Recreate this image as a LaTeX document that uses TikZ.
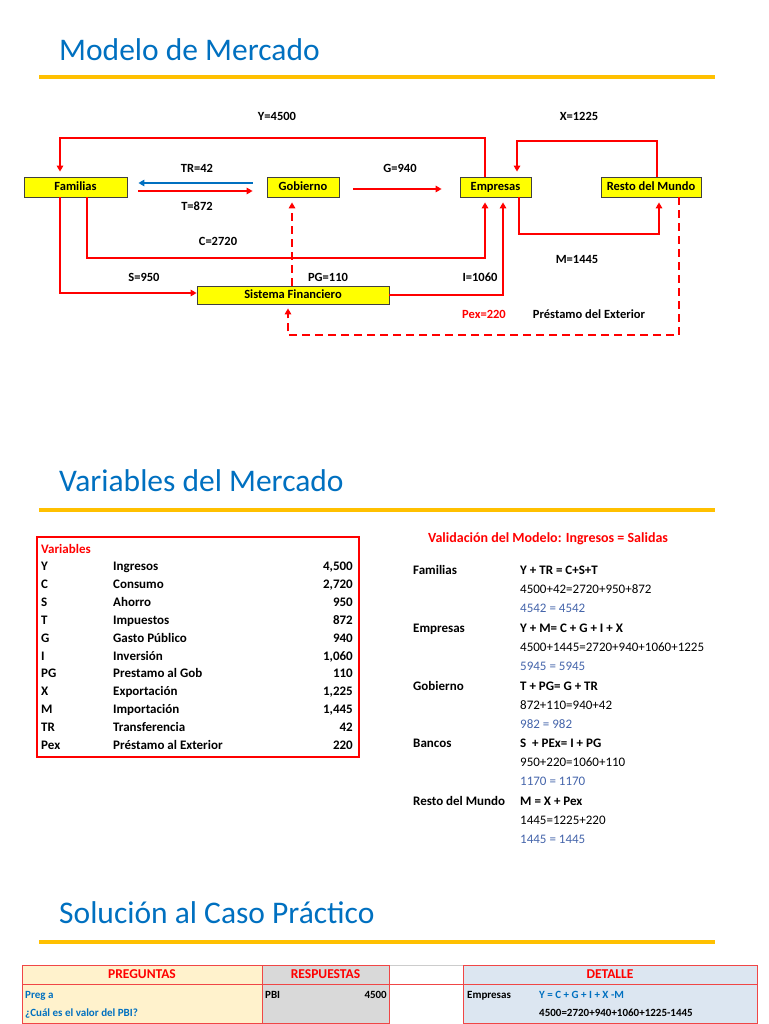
\documentclass[tikz,border=0pt]{standalone}
\usepackage{fontspec}
\setmainfont{Carlito}
\usepackage{xcolor}
\definecolor{titleblue}{RGB}{0,112,192}
\definecolor{rulegold}{RGB}{255,192,0}
\definecolor{flowred}{RGB}{255,0,0}
\definecolor{trblue}{RGB}{0,112,192}
\definecolor{boxyellow}{RGB}{255,255,0}
\definecolor{checkblue}{RGB}{68,100,170}
\definecolor{pregfill}{RGB}{255,242,204}
\definecolor{respfill}{RGB}{217,217,217}
\definecolor{detfill}{RGB}{220,230,241}
\definecolor{gridred}{RGB}{240,70,70}
\usepackage{tikz}
\usetikzlibrary{arrows.meta,positioning}

\begin{document}
\begin{tikzpicture}[x=1pt,y=-1pt,
  ttl/.style={anchor=base west,inner sep=0pt,font=\fontsize{31.5}{35}\selectfont,text=titleblue},
  goldrule/.style={draw=rulegold,line width=4.5pt},
  agent/.style={rectangle,draw=black!75,line width=0.8pt,fill=boxyellow,minimum height=20pt,
                inner sep=0pt,text height=9pt,text depth=2.5pt,font=\fontsize{12.5}{14}\selectfont\bfseries},
  lbl/.style={inner sep=0pt,font=\fontsize{12.5}{14}\selectfont\bfseries},
  flow/.style={draw=flowred,line width=2pt,-{Triangle[length=6pt,width=6.5pt]}},
  loan/.style={flow,dash pattern=on 8pt off 5pt},
  tbl/.style={anchor=base west,inner sep=0pt,font=\fontsize{13}{15}\selectfont\bfseries},
  val/.style={anchor=base west,inner sep=0pt,font=\fontsize{13}{15}\selectfont},
  cell/.style={draw=gridred,line width=1pt},
  small/.style={anchor=base west,inner sep=0pt,font=\fontsize{11}{13}\selectfont\bfseries},
  head/.style={inner sep=0pt,font=\fontsize{13.5}{15}\selectfont\bfseries,text=flowred}
]
\useasboundingbox (0,0) rectangle (768,1024);

% ---- Modelo de Mercado ----
\node[ttl] (t1) at (59,60.5) {Modelo de Mercado};
\draw[goldrule] (39,77) -- (715,77);

\node[agent,minimum width=103pt] (fam)  at (75.5,187) {Familias};
\node[agent,minimum width=72pt]  (gob)  at (303,187)  {Gobierno};
\node[agent,minimum width=71pt]  (emp)  at (495.5,187) {Empresas};
\node[agent,minimum width=100pt] (rdm)  at (651,187)  {Resto del Mundo};
\node[agent,minimum width=192pt,minimum height=18pt] (sfin) at (293,295) {Sistema Financiero};

\draw[flow,shorten >=5pt] ([xshift=-10.5pt]emp.north) -- ++(0,-39) -| ([xshift=-15.5pt]fam.north);
\draw[flow,draw=trblue,shorten <=14pt,shorten >=11pt] ([yshift=4pt]gob.west) -- ([yshift=4pt]fam.east);
\draw[flow,shorten <=11pt,shorten >=14pt] ([yshift=-4pt]fam.east) -- ([yshift=-4pt]gob.west);
\draw[flow,shorten <=14pt,shorten >=18pt] ([yshift=-2pt]gob.east) -- ([yshift=-2pt]emp.west);
\draw[flow,shorten >=5pt] ([xshift=11.5pt]fam.south) -- ++(0,61) -| ([xshift=-10.5pt]emp.south);
\draw[flow] ([xshift=-15.5pt]fam.south) |- ([yshift=2pt]sfin.west);
\draw[flow,shorten >=5pt] (sfin.east) -| ([xshift=7.5pt]emp.south);
\draw[loan,shorten >=5pt] ([xshift=-1pt]sfin.north) -- ([xshift=-11pt]gob.south);
\draw[loan,shorten >=4pt] ([xshift=28pt]rdm.south) -- ++(0,138) -| ([xshift=-5pt]sfin.south);
\draw[flow,shorten >=5pt] ([xshift=6pt]rdm.north) -- ++(0,-36) -| ([xshift=21.5pt]emp.north);
\draw[flow,shorten >=5pt] ([xshift=23.5pt]emp.south) -- ++(0,37) -| ([xshift=8pt]rdm.south);

\node[lbl] (lY)   at (277,116) {Y=4500};
\node[lbl] (lTR)  at (197,168) {TR=42};
\node[lbl] (lT)   at (197,206) {T=872};
\node[lbl] (lG)   at (400,168) {G=940};
\node[lbl] (lC)   at (218,241) {C=2720};
\node[lbl] (lS)   at (144,277) {S=950};
\node[lbl] (lPG)  at (328,277) {PG=110};
\node[lbl] (lI)   at (480,277) {I=1060};
\node[lbl] (lX)   at (579,116) {X=1225};
\node[lbl] (lM)   at (577,259) {M=1445};
\node[lbl,text=flowred] (lPex) at (484,314) {Pex=220};
\node[lbl] (lPE)  at (589,314) {Préstamo del Exterior};

% ---- Variables del Mercado ----
\node[ttl] (t2) at (59,491) {Variables del Mercado};
\draw[goldrule] (39,510) -- (715,510);

\draw[draw=flowred,line width=1.8pt] (37,537) rectangle (359,757);
\node[tbl,text=flowred] (vhead) at (41,553.5) {Variables};
\foreach \sym/\desc/\num [count=\i] in {Y/Ingresos/{4,500},C/Consumo/{2,720},S/Ahorro/950,
    T/Impuestos/872,G/Gasto Público/940,I/Inversión/{1,060},PG/Prestamo al Gob/110,
    X/Exportación/{1,225},M/Importación/{1,445},TR/Transferencia/42,Pex/Préstamo al Exterior/220}{
  \node[tbl] (vs\i) at (41,570.5+17.9*\i-17.9) {\sym};
  \node[tbl] (vd\i) at (113,570.5+17.9*\i-17.9) {\desc};
  \node[tbl,anchor=base east] (vn\i) at (353,570.5+17.9*\i-17.9) {\num};
}

\node[lbl,text=flowred,font=\fontsize{14}{16}\selectfont\bfseries] (valid) at (548,539)
  {Validación del Modelo: Ingresos = Salidas};
\foreach \who/\eq/\nums/\chk [count=\i] in {
    Familias/Y + TR = C+S+T/4500+42=2720+950+872/4542 = 4542,
    Empresas/Y + M= C + G + I + X/4500+1445=2720+940+1060+1225/5945 = 5945,
    Gobierno/T + PG= G + TR/872+110=940+42/982 = 982,
    Bancos/S\ \ + PEx= I + PG/950+220=1060+110/1170 = 1170,
    Resto del Mundo/M = X + Pex/1445=1225+220/1445 = 1445}{
  \node[val,font=\fontsize{13}{15}\selectfont\bfseries] (vw\i) at (413,574.5+57.75*\i-57.75) {\who};
  \node[val,font=\fontsize{13}{15}\selectfont\bfseries] (ve\i) at (520,574.5+57.75*\i-57.75) {\eq};
  \node[val] (vq\i) at (520,593.5+57.75*\i-57.75) {\nums};
  \node[val,text=checkblue] (vc\i) at (520,612.5+57.75*\i-57.75) {\chk};
}

% ---- Solucion al Caso Practico ----
\node[ttl] (t3) at (59,923) {Solución al Caso Práctico};
\draw[goldrule] (39,942) -- (715,942);

\fill[pregfill] (22,965) rectangle (262,1023);
\fill[respfill] (262,965) rectangle (389,1023);
\fill[detfill]  (463,965) rectangle (757,1023);
\draw[black!20,line width=0.6pt] (389,965) -- (463,965);
\draw[cell] (22,965) rectangle (389,1023);
\draw[cell] (262,965) -- (262,1023);
\draw[cell] (22,984) -- (757,984);
\draw[cell] (389,984) -- (389,1023);
\draw[cell] (463,965) rectangle (757,1023);

\node[head] (hp) at (142,974.5) {PREGUNTAS};
\node[head] (hr) at (325.5,974.5) {RESPUESTAS};
\node[head] (hd) at (610,974.5) {DETALLE};

\node[small,text=titleblue] (qa)  at (25,998.5) {Preg a};
\node[small,text=titleblue] (qt)  at (25,1016.5) {¿Cuál es el valor del PBI?};
\node[small] (rp)  at (265,998.5) {PBI};
\node[small,anchor=base east] (rv) at (387,998.5) {4500};
\node[small] (de)  at (467,998.5) {Empresas};
\node[small,text=titleblue] (df) at (539,998.5) {Y = C + G + I + X -M};
\node[small] (dn)  at (539,1016.5) {4500=2720+940+1060+1225-1445};
\end{tikzpicture}
\end{document}
